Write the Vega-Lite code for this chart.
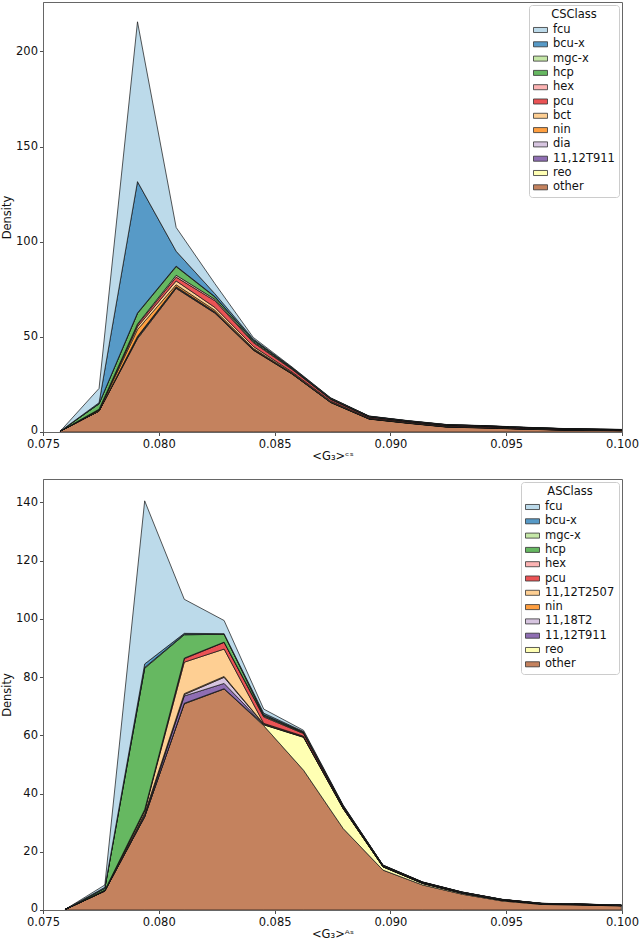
{
  "$schema": "https://vega.github.io/schema/vega-lite/v6.json",
  "padding": {"left": 1, "top": 1, "right": 2, "bottom": 1},
  "background": "white",
  "bounds": "flush",
  "spacing": 47,
  "config": {
    "font": "DejaVu Sans",
    "view": {"stroke": "#666", "strokeWidth": 1},
    "axis": {"grid": false, "labelFlush": false, "labelFontSize": 11.5, "titleFontSize": 11.5, "labelColor": "#111", "titleColor": "#111", "titleFontWeight": "normal", "tickColor": "#222", "tickSize": 3.5, "tickWidth": 0.8, "domainColor": "#666", "labelPadding": 2, "titlePadding": 3},
    "axisX": {"labelPadding": 2.5, "titlePadding": 1},
    "axisY": {"labelFlush": 1, "labelFlushOffset": 3},
    "legend": {"orient": "top-right", "offset": 3, "fillColor": "white", "strokeColor": "#cccccc", "padding": 4, "cornerRadius": 3, "titleAnchor": "middle", "titleFontWeight": "normal", "titleFontSize": 11.5, "labelFontSize": 11.5, "titleColor": "#111", "labelColor": "#111", "symbolType": "M-1,-0.36H1V0.36H-1Z", "symbolSize": 196, "symbolStrokeColor": "#333", "symbolStrokeWidth": 0.8, "rowPadding": 1.3, "labelOffset": 5, "titlePadding": 2}
  },
  "datasets": {
    "cs": [
      {"x": 0.07575, "other": 0.5, "reo": 0, "11,12T911": 0, "dia": 0, "nin": 0, "bct": 0, "pcu": 0, "hex": 0, "hcp": 0, "mgc-x": 0, "bcu-x": 0, "fcu": 0},
      {"x": 0.07742, "other": 11, "reo": 0, "11,12T911": 0.1, "dia": 0, "nin": 0.4, "bct": 0.2, "pcu": 0.2, "hex": 0.1, "hcp": 2.8, "mgc-x": 0.1, "bcu-x": 0.5, "fcu": 7.5},
      {"x": 0.07908, "other": 49, "reo": 0.5, "11,12T911": 0.5, "dia": 0.3, "nin": 3.5, "bct": 1.5, "pcu": 1.0, "hex": 0.5, "hcp": 5.5, "mgc-x": 0.3, "bcu-x": 69, "fcu": 84},
      {"x": 0.08075, "other": 75.5, "reo": 0.3, "11,12T911": 0.3, "dia": 0.3, "nin": 1.0, "bct": 2.0, "pcu": 2.0, "hex": 1.0, "hcp": 4.5, "mgc-x": 0.3, "bcu-x": 7.8, "fcu": 12.5},
      {"x": 0.08242, "other": 62.5, "reo": 0.2, "11,12T911": 0.3, "dia": 0.2, "nin": 0.8, "bct": 1.5, "pcu": 3.5, "hex": 0.8, "hcp": 1.2, "mgc-x": 0.2, "bcu-x": 1.5, "fcu": 5.3},
      {"x": 0.08408, "other": 43, "reo": 0.2, "11,12T911": 0.2, "dia": 0.1, "nin": 0.5, "bct": 1.0, "pcu": 2.0, "hex": 0.5, "hcp": 0.8, "mgc-x": 0.1, "bcu-x": 0.5, "fcu": 0.8},
      {"x": 0.08575, "other": 30.5, "reo": 0.1, "11,12T911": 0.1, "dia": 0.1, "nin": 0.3, "bct": 0.5, "pcu": 1.3, "hex": 0.3, "hcp": 0.4, "mgc-x": 0.1, "bcu-x": 0.2, "fcu": 0.3},
      {"x": 0.08742, "other": 15.5, "reo": 0.1, "11,12T911": 0.1, "dia": 0.05, "nin": 0.2, "bct": 0.4, "pcu": 0.8, "hex": 0.2, "hcp": 0.3, "mgc-x": 0.05, "bcu-x": 0.1, "fcu": 0.2},
      {"x": 0.08908, "other": 6.8, "reo": 0.1, "11,12T911": 0.05, "dia": 0.05, "nin": 0.1, "bct": 0.2, "pcu": 0.5, "hex": 0.15, "hcp": 0.2, "mgc-x": 0.05, "bcu-x": 0.1, "fcu": 0.1},
      {"x": 0.09075, "other": 4.6, "reo": 0.1, "11,12T911": 0.05, "dia": 0.05, "nin": 0.1, "bct": 0.2, "pcu": 0.4, "hex": 0.1, "hcp": 0.15, "mgc-x": 0.05, "bcu-x": 0.1, "fcu": 0.1},
      {"x": 0.09242, "other": 2.6, "reo": 0.1, "11,12T911": 0.05, "dia": 0.05, "nin": 0.1, "bct": 0.2, "pcu": 0.4, "hex": 0.1, "hcp": 0.15, "mgc-x": 0.05, "bcu-x": 0.05, "fcu": 0.1},
      {"x": 0.09408, "other": 2.1, "reo": 0.1, "11,12T911": 0.05, "dia": 0.05, "nin": 0.1, "bct": 0.15, "pcu": 0.35, "hex": 0.1, "hcp": 0.15, "mgc-x": 0.05, "bcu-x": 0.05, "fcu": 0.1},
      {"x": 0.09575, "other": 1.5, "reo": 0.08, "11,12T911": 0.04, "dia": 0.04, "nin": 0.08, "bct": 0.12, "pcu": 0.3, "hex": 0.08, "hcp": 0.12, "mgc-x": 0.04, "bcu-x": 0.04, "fcu": 0.08},
      {"x": 0.09742, "other": 1.0, "reo": 0.07, "11,12T911": 0.03, "dia": 0.03, "nin": 0.07, "bct": 0.1, "pcu": 0.25, "hex": 0.07, "hcp": 0.1, "mgc-x": 0.03, "bcu-x": 0.03, "fcu": 0.07},
      {"x": 0.09908, "other": 0.8, "reo": 0.05, "11,12T911": 0.03, "dia": 0.03, "nin": 0.05, "bct": 0.08, "pcu": 0.2, "hex": 0.05, "hcp": 0.08, "mgc-x": 0.03, "bcu-x": 0.03, "fcu": 0.07},
      {"x": 0.10075, "other": 0.6, "reo": 0.05, "11,12T911": 0.03, "dia": 0.03, "nin": 0.05, "bct": 0.07, "pcu": 0.18, "hex": 0.05, "hcp": 0.07, "mgc-x": 0.03, "bcu-x": 0.03, "fcu": 0.06}
    ],
    "as": [
      {"x": 0.07596, "other": 0.2, "reo": 0, "11,12T911": 0, "11,18T2": 0, "nin": 0, "11,12T2507": 0, "pcu": 0, "hex": 0, "hcp": 0, "mgc-x": 0, "bcu-x": 0, "fcu": 0},
      {"x": 0.07767, "other": 6.5, "reo": 0, "11,12T911": 0.05, "11,18T2": 0.05, "nin": 0.1, "11,12T2507": 0.1, "pcu": 0.05, "hex": 0, "hcp": 0.6, "mgc-x": 0.05, "bcu-x": 0.3, "fcu": 0.8},
      {"x": 0.07939, "other": 32, "reo": 0, "11,12T911": 0.4, "11,18T2": 0.3, "nin": 0.5, "11,12T2507": 0.8, "pcu": 0.3, "hex": 0.2, "hcp": 48.5, "mgc-x": 0.3, "bcu-x": 1.2, "fcu": 56},
      {"x": 0.0811, "other": 70.8, "reo": 0.2, "11,12T911": 2.5, "11,18T2": 0.5, "nin": 0.3, "11,12T2507": 10.8, "pcu": 1.2, "hex": 0.2, "hcp": 8.0, "mgc-x": 0.2, "bcu-x": 0.3, "fcu": 11.7},
      {"x": 0.08282, "other": 75.9, "reo": 0.1, "11,12T911": 1.8, "11,18T2": 2.1, "nin": 0.3, "11,12T2507": 9.4, "pcu": 2.3, "hex": 0.1, "hcp": 2.7, "mgc-x": 0.1, "bcu-x": 0.1, "fcu": 4.5},
      {"x": 0.08453, "other": 63.3, "reo": 0.3, "11,12T911": 0.1, "11,18T2": 0.1, "nin": 0.1, "11,12T2507": 0.2, "pcu": 2.2, "hex": 0.3, "hcp": 0.3, "mgc-x": 0.2, "bcu-x": 0.5, "fcu": 1.4},
      {"x": 0.08625, "other": 48, "reo": 11.3, "11,12T911": 0.1, "11,18T2": 0.1, "nin": 0.1, "11,12T2507": 0.1, "pcu": 0.9, "hex": 0.2, "hcp": 0.2, "mgc-x": 0.1, "bcu-x": 0.2, "fcu": 0.4},
      {"x": 0.08796, "other": 28, "reo": 6.8, "11,12T911": 0.1, "11,18T2": 0.05, "nin": 0.1, "11,12T2507": 0.1, "pcu": 0.3, "hex": 0.1, "hcp": 0.15, "mgc-x": 0.05, "bcu-x": 0.1, "fcu": 0.2},
      {"x": 0.08968, "other": 13.7, "reo": 1.1, "11,12T911": 0.05, "11,18T2": 0.05, "nin": 0.05, "11,12T2507": 0.05, "pcu": 0.15, "hex": 0.05, "hcp": 0.1, "mgc-x": 0.02, "bcu-x": 0.05, "fcu": 0.08},
      {"x": 0.09139, "other": 8.6, "reo": 0.5, "11,12T911": 0.05, "11,18T2": 0.03, "nin": 0.05, "11,12T2507": 0.05, "pcu": 0.12, "hex": 0.04, "hcp": 0.08, "mgc-x": 0.02, "bcu-x": 0.04, "fcu": 0.06},
      {"x": 0.09311, "other": 5.4, "reo": 0.35, "11,12T911": 0.03, "11,18T2": 0.02, "nin": 0.04, "11,12T2507": 0.04, "pcu": 0.1, "hex": 0.03, "hcp": 0.06, "mgc-x": 0.02, "bcu-x": 0.03, "fcu": 0.05},
      {"x": 0.09482, "other": 3.1, "reo": 0.25, "11,12T911": 0.02, "11,18T2": 0.02, "nin": 0.03, "11,12T2507": 0.03, "pcu": 0.08, "hex": 0.02, "hcp": 0.05, "mgc-x": 0.01, "bcu-x": 0.02, "fcu": 0.04},
      {"x": 0.09654, "other": 1.9, "reo": 0.15, "11,12T911": 0.02, "11,18T2": 0.01, "nin": 0.02, "11,12T2507": 0.02, "pcu": 0.06, "hex": 0.02, "hcp": 0.04, "mgc-x": 0.01, "bcu-x": 0.02, "fcu": 0.03},
      {"x": 0.09825, "other": 1.7, "reo": 0.12, "11,12T911": 0.02, "11,18T2": 0.01, "nin": 0.02, "11,12T2507": 0.02, "pcu": 0.05, "hex": 0.02, "hcp": 0.03, "mgc-x": 0.01, "bcu-x": 0.02, "fcu": 0.03},
      {"x": 0.09997, "other": 1.4, "reo": 0.1, "11,12T911": 0.01, "11,18T2": 0.01, "nin": 0.02, "11,12T2507": 0.02, "pcu": 0.04, "hex": 0.01, "hcp": 0.03, "mgc-x": 0.01, "bcu-x": 0.01, "fcu": 0.02}
    ],
    "rank_cs": [
      {"cls": "other", "rank": 0}, {"cls": "reo", "rank": 1}, {"cls": "11,12T911", "rank": 2}, {"cls": "dia", "rank": 3},
      {"cls": "nin", "rank": 4}, {"cls": "bct", "rank": 5}, {"cls": "pcu", "rank": 6}, {"cls": "hex", "rank": 7},
      {"cls": "hcp", "rank": 8}, {"cls": "mgc-x", "rank": 9}, {"cls": "bcu-x", "rank": 10}, {"cls": "fcu", "rank": 11}
    ],
    "rank_as": [
      {"cls": "other", "rank": 0}, {"cls": "reo", "rank": 1}, {"cls": "11,12T911", "rank": 2}, {"cls": "11,18T2", "rank": 3},
      {"cls": "nin", "rank": 4}, {"cls": "11,12T2507", "rank": 5}, {"cls": "pcu", "rank": 6}, {"cls": "hex", "rank": 7},
      {"cls": "hcp", "rank": 8}, {"cls": "mgc-x", "rank": 9}, {"cls": "bcu-x", "rank": 10}, {"cls": "fcu", "rank": 11}
    ]
  },
  "resolve": {"scale": {"color": "independent", "x": "independent", "y": "independent"}, "legend": {"color": "independent"}},
  "vconcat": [
    {
      "width": 579,
      "height": 430,
      "data": {"name": "cs"},
      "transform": [
        {"fold": ["other", "reo", "11,12T911", "dia", "nin", "bct", "pcu", "hex", "hcp", "mgc-x", "bcu-x", "fcu"], "as": ["cls", "density"]},
        {"lookup": "cls", "from": {"data": {"name": "rank_cs"}, "key": "cls", "fields": ["rank"]}}
      ],
      "mark": {"type": "area", "stroke": "#111", "strokeWidth": 0.7, "clip": true, "interpolate": "linear"},
      "encoding": {
        "x": {"field": "x", "type": "quantitative", "scale": {"domain": [0.075, 0.1], "nice": false, "zero": false},
              "axis": {"values": [0.075, 0.08, 0.085, 0.09, 0.095, 0.1], "format": ".3f", "title": "<G₃>ᶜˢ"}},
        "y": {"field": "density", "type": "quantitative", "stack": "zero", "scale": {"domain": [0, 226], "nice": false},
              "axis": {"values": [0, 50, 100, 150, 200], "title": "Density"}},
        "color": {"field": "cls", "type": "nominal",
                  "scale": {"domain": ["fcu", "bcu-x", "mgc-x", "hcp", "hex", "pcu", "bct", "nin", "dia", "11,12T911", "reo", "other"],
                            "range": ["#bcdaea", "#579ac7", "#c5e7a7", "#66b861", "#fcb3b3", "#ea5355", "#fecf93", "#ff9f40", "#d7c5e0", "#8f6eb3", "#ffffb3", "#c4825e"]},
                  "legend": {"title": "CSClass", "titleFontWeight": "normal"}},
        "order": {"field": "rank", "type": "quantitative", "sort": "ascending"}
      }
    },
    {
      "width": 579,
      "height": 431,
      "data": {"name": "as"},
      "transform": [
        {"fold": ["other", "reo", "11,12T911", "11,18T2", "nin", "11,12T2507", "pcu", "hex", "hcp", "mgc-x", "bcu-x", "fcu"], "as": ["cls", "density"]},
        {"lookup": "cls", "from": {"data": {"name": "rank_as"}, "key": "cls", "fields": ["rank"]}}
      ],
      "mark": {"type": "area", "stroke": "#111", "strokeWidth": 0.7, "clip": true, "interpolate": "linear"},
      "encoding": {
        "x": {"field": "x", "type": "quantitative", "scale": {"domain": [0.075, 0.1], "nice": false, "zero": false},
              "axis": {"values": [0.075, 0.08, 0.085, 0.09, 0.095, 0.1], "format": ".3f", "title": "<G₃>ᴬˢ"}},
        "y": {"field": "density", "type": "quantitative", "stack": "zero", "scale": {"domain": [0, 148], "nice": false},
              "axis": {"values": [0, 20, 40, 60, 80, 100, 120, 140], "title": "Density"}},
        "color": {"field": "cls", "type": "nominal",
                  "scale": {"domain": ["fcu", "bcu-x", "mgc-x", "hcp", "hex", "pcu", "11,12T2507", "nin", "11,18T2", "11,12T911", "reo", "other"],
                            "range": ["#bcdaea", "#579ac7", "#c5e7a7", "#66b861", "#fcb3b3", "#ea5355", "#fecf93", "#ff9f40", "#d7c5e0", "#8f6eb3", "#ffffb3", "#c4825e"]},
                  "legend": {"title": "ASClass", "titleFontWeight": "normal"}},
        "order": {"field": "rank", "type": "quantitative", "sort": "ascending"}
      }
    }
  ]
}
